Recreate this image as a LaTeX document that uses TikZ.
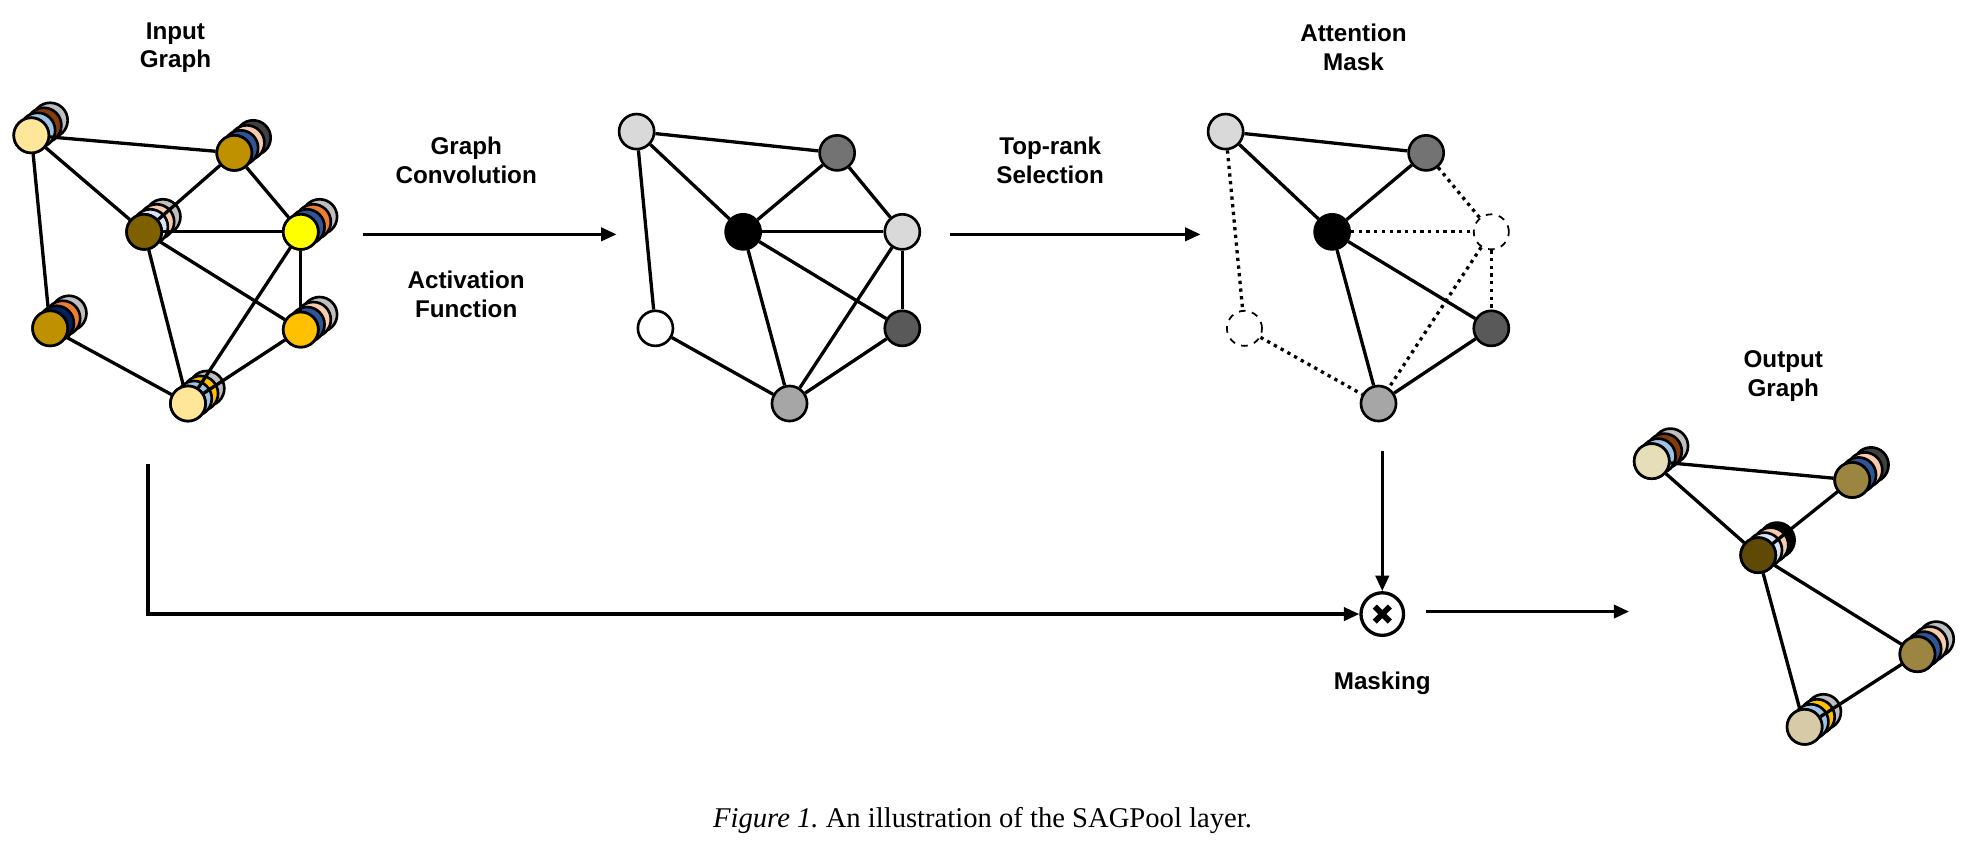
\documentclass[tikz,border=0pt]{standalone}
\usepackage{fontspec}
\setmainfont{Liberation Serif}
\newfontfamily\lab{Liberation Sans}
\usetikzlibrary{arrows.meta,calc}
\definecolor{lyel}{HTML}{FFE699}
\definecolor{gold}{HTML}{BF9000}
\definecolor{olv}{HTML}{7F6000}
\definecolor{yel}{HTML}{FFFF00}
\definecolor{org}{HTML}{FFC000}
\definecolor{lblue}{HTML}{9DC3E6}
\definecolor{pale}{HTML}{DAE3F3}
\definecolor{brn}{HTML}{843C0C}
\definecolor{gr}{HTML}{BFBFBF}
\definecolor{dgr}{HTML}{404040}
\definecolor{blu}{HTML}{2F5597}
\definecolor{navy}{HTML}{002060}
\definecolor{peach}{HTML}{F8CBAD}
\definecolor{orn}{HTML}{ED7D31}
\definecolor{beige}{HTML}{E6DDB9}
\definecolor{tan}{HTML}{9C8540}
\definecolor{tan2}{HTML}{D6CBA6}
\definecolor{dol}{HTML}{5E4A06}
\tikzset{
  nd/.style={circle,draw=black,line width=1.2pt,minimum size=0.56cm,inner sep=0pt},
  ed/.style={line width=1.5pt},
  dt/.style={line width=1.5pt,dotted},
  ar/.style={line width=1.5pt,-{Triangle[length=7pt,width=6pt]}},
  tx/.style={font=\lab\bfseries\fontsize{11}{13}\selectfont,align=center}
}
% name, position, front, c1 (next), c2, c3 (back)
\newcommand\stk[6]{%
  \node[nd,fill=#6] at ($(#2)+(15,-12)$) {};
  \node[nd,fill=#5] at ($(#2)+(10,-8)$) {};
  \node[nd,fill=#4] at ($(#2)+(5,-4)$) {};
  \node[nd,fill=#3] (#1) at (#2) {};}
\begin{document}
\begin{tikzpicture}[x=0.02cm,y=-0.02cm]
\useasboundingbox (0,0) rectangle (1568,679);
% input graph
\coordinate (pA) at (25,108);\coordinate (pB) at (187,122);\coordinate (pC) at (115,185);
\coordinate (pD) at (240,185);\coordinate (pE) at (40,262);\coordinate (pF) at (240,263);
\coordinate (pG) at (150,322);
\stk{A}{pA}{lyel}{lblue}{brn}{gr}
\stk{B}{pB}{gold}{blu}{peach}{dgr}
\stk{C}{pC}{olv}{pale}{peach}{gr}
\stk{D}{pD}{yel}{blu}{orn}{gr}
\stk{E}{pE}{gold}{navy}{orn}{gr}
\stk{F}{pF}{org}{blu}{peach}{gr}
\stk{G}{pG}{lyel}{lblue}{org}{gr}
\foreach \u/\v in {A/B,A/C,A/E,B/C,B/D,C/D,C/F,C/G,D/F,D/G,E/G,F/G}
  \draw[ed] (\u) -- (\v);
\node[nd,fill=lyel] at (A) {};\node[nd,fill=gold] at (B) {};\node[nd,fill=olv] at (C) {};
\node[nd,fill=yel] at (D) {};\node[nd,fill=gold] at (E) {};\node[nd,fill=org] at (F) {};
\node[nd,fill=lyel] at (G) {};
% middle graph
\node[nd,fill=black!15] (a) at (508,105) {};
\node[nd,fill=black!55] (b) at (668,122) {};
\node[nd,fill=black] (c) at (593,185) {};
\node[nd,fill=black!15] (d) at (720,185) {};
\node[nd,fill=white] (e) at (523,262) {};
\node[nd,fill=black!65] (f) at (720,262) {};
\node[nd,fill=black!35] (g) at (630,322) {};
\foreach \u/\v in {a/b,a/c,a/e,b/c,b/d,c/d,c/f,c/g,d/f,d/g,e/g,f/g}
  \draw[ed] (\u) -- (\v);
% attention mask
\node[nd,fill=black!15] (a2) at (978,105) {};
\node[nd,fill=black!55] (b2) at (1138,122) {};
\node[nd,fill=black] (c2) at (1063,185) {};
\node[nd,fill=white,dashed,line width=0.8pt] (d2) at (1190,185) {};
\node[nd,fill=white,dashed,line width=0.8pt] (e2) at (993,262) {};
\node[nd,fill=black!65] (f2) at (1190,262) {};
\node[nd,fill=black!35] (g2) at (1100,322) {};
\foreach \u/\v in {a2/b2,a2/c2,b2/c2,c2/f2,c2/g2,f2/g2}
  \draw[ed] (\u) -- (\v);
\foreach \u/\v in {a2/e2,b2/d2,c2/d2,d2/f2,d2/g2,e2/g2}
  \draw[dt] (\u) -- (\v);
% output graph
\coordinate (qA) at (1318,368);\coordinate (qB) at (1478,383);\coordinate (qC) at (1403,443);
\coordinate (qF) at (1530,522);\coordinate (qG) at (1440,580);
\stk{oA}{qA}{beige}{lblue}{brn}{gr}
\stk{oB}{qB}{tan}{blu}{peach}{dgr}
\stk{oC}{qC}{dol}{pale}{peach}{black}
\stk{oF}{qF}{tan}{blu}{peach}{gr}
\stk{oG}{qG}{tan2}{lblue}{org}{gr}
\foreach \u/\v in {oA/oB,oA/oC,oB/oC,oC/oF,oC/oG,oF/oG}
  \draw[ed] (\u) -- (\v);
\node[nd,fill=beige] at (oA) {};\node[nd,fill=tan] at (oB) {};\node[nd,fill=dol] at (oC) {};
\node[nd,fill=tan] at (oF) {};\node[nd,fill=tan2] at (oG) {};
% labels & arrows
\node[tx] (l1) at (140,38) {Input\\Graph};
\node[tx] (l2) at (372,128) {Graph\\Convolution};
\node[tx] (l3) at (372,235) {Activation\\Function};
\node[tx] (l4) at (838,128) {Top-rank\\Selection};
\node[tx] (l5) at (1080,38) {Attention\\Mask};
\node[tx] (l6) at (1423,300) {Output\\Graph};
\node[tx] (l7) at (1103,545) {Masking};
\coordinate (s1) at (290,187);\coordinate (t1) at (492,187);
\coordinate (s2) at (758,187);\coordinate (t2) at (958,187);
\draw[ar] (s1) -- (t1);
\draw[ar] (s2) -- (t2);
\node[circle,draw,line width=1.5pt,minimum size=0.68cm,inner sep=0pt] (m) at (1103,490) {};
\draw[line width=2.6pt] ($(m)+(-6,-6)$) -- ($(m)+(6,6)$) ($(m)+(-6,6)$) -- ($(m)+(6,-6)$);
\coordinate (s3) at (1103,360);
\draw[ar] (s3) -- (m);
\coordinate (s4) at (118,370);
\draw[ar] (s4) |- (m);
\coordinate (s5) at (1138,488);\coordinate (t5) at (1300,488);
\draw[ar] (s5) -- (t5);
\node[font=\fontsize{13}{15}\selectfont] (cap) at (784,655) {\textit{Figure 1.}\ An illustration of the SAGPool layer.};
\end{tikzpicture}
\end{document}
